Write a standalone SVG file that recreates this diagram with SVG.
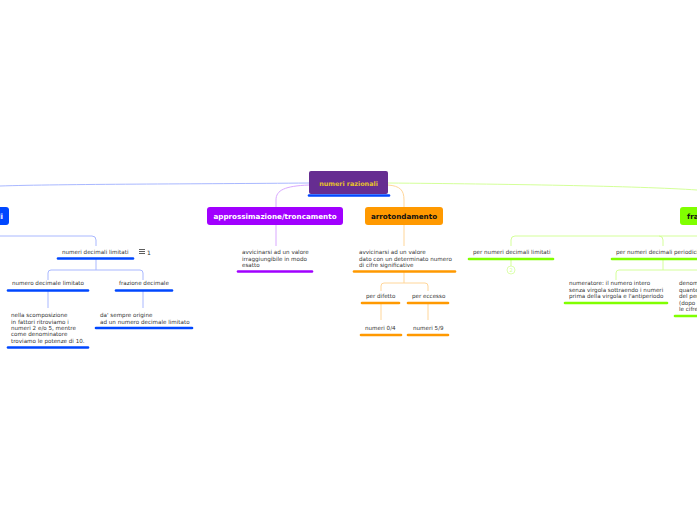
<svg xmlns="http://www.w3.org/2000/svg" width="697" height="520" viewBox="0 0 697 520">
<style>
text{font-family:"DejaVu Sans","Liberation Sans",sans-serif;font-size:5.6px;fill:#333}
.h{font-size:7.2px;font-weight:bold}
.w{fill:#fff}.k{fill:#111}
.cb{stroke:#a9b8ff;fill:none;stroke-width:1}
.cp{stroke:#d9a8ff;fill:none;stroke-width:1}
.co{stroke:#ffd699;fill:none;stroke-width:1}
.cg{stroke:#d4ff99;fill:none;stroke-width:1}
.u{stroke-width:2.6;stroke-linecap:round}
</style>
<rect width="697" height="520" fill="#fff"/>
<g id="connectors">
<path class="cb" d="M309,183 C200,184 60,184 0,186"/>
<path class="cp" d="M309,185 C285,186 276,190 276,200 L276,207"/>
<path class="co" d="M388,185 C400,186 404,190 404,200 L404,207"/>
<path class="cg" d="M388,183 C500,184 640,186 697,190"/>
<path class="cb" d="M0,236 L92,236 Q96,236 96,240 L96,246"/>
<path class="cb" d="M96,258 L96,270 M48,280 L48,273 Q48,270 51,270 L140,270 Q143,270 143,273 L143,280"/>
<path class="cb" d="M48,290 L48,308 M143,290 L143,308"/>
<path class="cp" d="M276,225 L276,246"/>
<path class="co" d="M404,225 L404,246 M404,271 L404,283 M381,291 L381,286 Q381,283 384,283 L425,283 Q428,283 428,286 L428,291 M381,303 L381,320 M428,303 L428,320"/>
<path class="cg" d="M697,236 L515,236 Q511,236 511,240 L511,246 M659,236 Q663,236 663,240 L663,246"/>
<path class="cg" d="M511,259 L511,266 M663,259 L663,270 M697,270 L619,270 Q616,270 616,273 L616,280"/>
</g>
<g id="root">
<rect x="309" y="171" width="79" height="23" rx="2" fill="#662d91"/>
<line class="u" x1="309" y1="195.5" x2="389" y2="195.5" stroke="#0047ff"/>
<text class="h" x="348.5" y="185.5" text-anchor="middle" style="fill:#e6c229;font-size:6.4px">numeri razionali</text>
</g>
<g id="n-left">
<rect x="-60" y="207" width="69" height="18" rx="3" fill="#0047ff"/>
<text class="h w" x="3" y="219" text-anchor="end">decimali</text>
</g>
<g id="n-approx">
<rect x="207" y="207" width="136" height="18" rx="3" fill="#a100ff"/>
<text class="h w" x="275" y="219" text-anchor="middle">approssimazione/troncamento</text>
</g>
<g id="n-arr">
<rect x="365" y="207" width="78" height="18" rx="3" fill="#ff9900"/>
<text class="h k" x="404" y="219" text-anchor="middle">arrotondamento</text>
</g>
<g id="n-fraz">
<rect x="680" y="207" width="60" height="18" rx="3" fill="#80ff00"/>
<text class="h k" x="687" y="219">frazione generatrice</text>
</g>
<g id="n-ndl">
<text x="62" y="254">numeri decimali limitati</text>
<line class="u" x1="58" y1="258.5" x2="133" y2="258.5" stroke="#0047ff"/>
<g stroke="#333" stroke-width="0.8"><line x1="139" y1="249.5" x2="145" y2="249.5"/><line x1="139" y1="251.5" x2="145" y2="251.5"/><line x1="139" y1="253.5" x2="145" y2="253.5"/></g>
<text x="147" y="254.5" style="font-size:6px">1</text>
</g>
<g id="n-ndl2">
<text x="12" y="285">numero decimale limitato</text>
<line class="u" x1="8" y1="290.5" x2="88" y2="290.5" stroke="#0047ff"/>
</g>
<g id="n-fd">
<text x="119" y="285">frazione decimale</text>
<line class="u" x1="116" y1="290.5" x2="172" y2="290.5" stroke="#0047ff"/>
</g>
<g id="n-scomp">
<text x="11" y="317">nella scomposizione</text>
<text x="11" y="323.5">in fattori ritroviamo i</text>
<text x="11" y="330">numeri 2 e/o 5, mentre</text>
<text x="11" y="336">come denominatore</text>
<text x="11" y="342.5">troviamo le potenze di 10.</text>
<line class="u" x1="8" y1="347.5" x2="88" y2="347.5" stroke="#0047ff"/>
</g>
<g id="n-orig">
<text x="100" y="317">da' sempre origine</text>
<text x="100" y="323.5">ad un numero decimale limitato</text>
<line class="u" x1="96" y1="328" x2="192" y2="328" stroke="#0047ff"/>
</g>
<g id="n-avv1">
<text x="242" y="254">avvicinarsi ad un valore</text>
<text x="242" y="260.5">irraggiungibile in modo</text>
<text x="242" y="267">esatto</text>
<line class="u" x1="238" y1="271.5" x2="312" y2="271.5" stroke="#a100ff"/>
</g>
<g id="n-avv2">
<text x="359" y="254">avvicinarsi ad un valore</text>
<text x="359" y="260.5">dato con un determinato numero</text>
<text x="359" y="267">di cifre significative</text>
<line class="u" x1="354" y1="271.5" x2="455" y2="271.5" stroke="#ff9900"/>
</g>
<g id="n-dif">
<text x="366" y="298">per difetto</text>
<line class="u" x1="362" y1="303" x2="399" y2="303" stroke="#ff9900"/>
</g>
<g id="n-ecc">
<text x="412" y="298">per eccesso</text>
<line class="u" x1="408" y1="303" x2="448" y2="303" stroke="#ff9900"/>
</g>
<g id="n-04">
<text x="365" y="330">numeri 0/4</text>
<line class="u" x1="361" y1="335" x2="401" y2="335" stroke="#ff9900"/>
</g>
<g id="n-59">
<text x="413" y="330">numeri 5/9</text>
<line class="u" x1="408" y1="335" x2="448" y2="335" stroke="#ff9900"/>
</g>
<g id="n-pndl">
<text x="473" y="254">per numeri decimali limitati</text>
<line class="u" x1="469" y1="259" x2="553" y2="259" stroke="#80ff00"/>
<circle cx="511" cy="270" r="4" fill="#fff" stroke="#d4ff99" stroke-width="0.8"/>
<text x="511" y="272" text-anchor="middle" style="font-size:5px;fill:#d4ff99">2</text>
</g>
<g id="n-pndp">
<text x="616" y="254">per numeri decimali periodici</text>
<line class="u" x1="612" y1="259" x2="700" y2="259" stroke="#80ff00"/>
</g>
<g id="n-num">
<text x="569" y="285">numeratore: il numero intero</text>
<text x="569" y="291.5">senza virgola sottraendo i numeri</text>
<text x="569" y="298">prima della virgola e l'antiperiodo</text>
<line class="u" x1="565" y1="303" x2="667" y2="303" stroke="#80ff00"/>
</g>
<g id="n-den">
<text x="679" y="285">denominatore</text>
<text x="679" y="291.5">quante sono</text>
<text x="679" y="298">del periodo</text>
<text x="679" y="304.5">(dopo la virgola)</text>
<text x="679" y="311">le cifre</text>
<line class="u" x1="675" y1="316" x2="700" y2="316" stroke="#80ff00"/>
</g>
</svg>
